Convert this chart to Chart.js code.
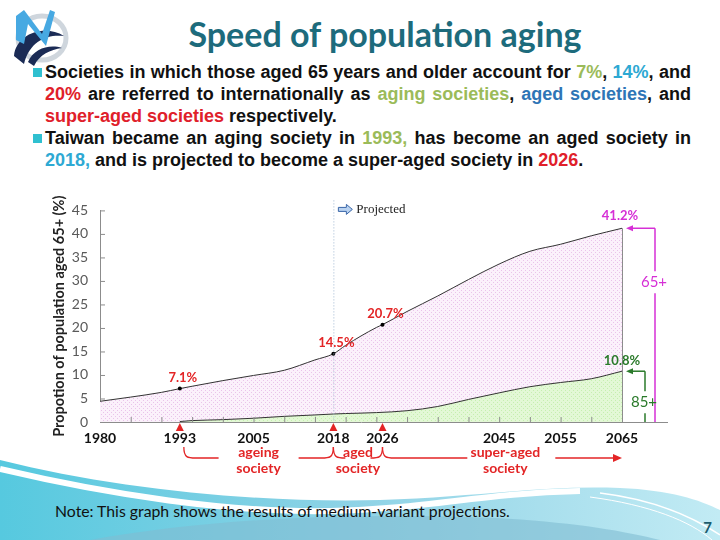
<!DOCTYPE html>
<html>
<head>
<meta charset="utf-8">
<script src="https://cdn.jsdelivr.net/npm/chart.js@4.4.1/dist/chart.umd.min.js"></script>
<style>
  body { margin:0; width:720px; height:540px; position:relative; overflow:hidden; background:#fff; font-family:"Liberation Sans", Arial, sans-serif; }
  #title { position:absolute; left:0; width:770px; top:13px; text-align:center; font-family:Lato, sans-serif; font-weight:bold; font-size:34px; color:#1d6b7c; }
  #bullets { position:absolute; left:30px; top:61px; width:661px; font-weight:bold; font-size:18px; line-height:22px; color:#111; }
  #bullets p { margin:0; padding-left:15px; position:relative; text-align:justify; }
  #bullets p:before { content:""; position:absolute; left:3px; top:7px; width:9px; height:9px; background:#2fc0d0; }
  .olive { color:#9bbb59; } .cyan { color:#2ea9d3; } .blue { color:#2e75b6; } .red { color:#e0202a; }
  #chartBox { position:absolute; left:45px; top:190px; width:650px; height:292px; }
  #note { position:absolute; left:55px; top:501px; font-family:Lato, sans-serif; font-size:15.8px; color:#111; }
  #page { position:absolute; right:8px; top:518px; font-family:Lato, sans-serif; font-weight:bold; font-size:15px; color:#1d5b6c; }
  svg { position:absolute; }
</style>
</head>
<body>
<svg style="left:0;top:455px" width="720" height="85">
  <defs>
    <linearGradient id="wave" x1="0" x2="1" y1="0" y2="0">
      <stop offset="0" stop-color="#56c9df"/>
      <stop offset="0.5" stop-color="#8fd3e6"/>
      <stop offset="1" stop-color="#c2ebf4"/>
    </linearGradient>
  </defs>
  <path d="M0,5 C120,35 260,48 380,45 C480,42 540,30 620,33 C670,35 700,45 720,55 L720,85 L0,85 Z" fill="url(#wave)"/>
  <path d="M90,85 C200,65 330,58 470,62 C560,65 620,75 660,85 Z" fill="#80bcd2" opacity="0.6"/>
  <path d="M0,14 C110,40 230,58 330,56 C430,54 480,38 580,36" stroke="#fff" stroke-width="6" fill="none"/>
  <path d="M600,38 C650,44 690,60 720,80" stroke="#fff" stroke-width="1.5" fill="none"/>
  <path d="M590,42 C650,50 690,66 712,85" stroke="#fff" stroke-width="1" fill="none"/>
</svg>
<svg style="left:4px;top:4px" width="66" height="64">
  <ellipse cx="38" cy="34" rx="24" ry="22" stroke="#cfd6dd" stroke-width="5" fill="none"/>
  <path d="M10,52 C12,30 40,20 60,32 C44,30 26,36 20,60 Z" fill="#1b2b55"/>
  <path d="M24,58 C30,44 46,40 58,44 C46,46 36,50 30,62 Z" fill="#1b2b55"/>
  <path d="M12,12 L20,6 L38,30 L46,6 L51,8 L42,42 L24,20 L20,40 L12,36 Z" fill="#47a9e2"/>
</svg>
<div id="title">Speed of population aging</div>
<div id="bullets">
  <p>Societies in which those aged 65 years and older account for <span class="olive">7%</span>, <span class="cyan">14%</span>, and <span class="red">20%</span> are referred to internationally as <span class="olive">aging societies</span>, <span class="blue">aged societies</span>, and <span class="red">super-aged societies</span> respectively.</p>
  <p>Taiwan became an aging society in <span class="olive">1993,</span> has become an aged society in <span class="cyan">2018,</span> and is projected to become a super-aged society in <span class="red">2026</span>.</p>
</div>
<div id="chartBox"><canvas id="myChart"></canvas></div>
<div id="note">Note: This graph shows the results of medium-variant projections.</div>
<div id="page">7</div>

<script>
// share of population aged 65+ (%)
const years65 = [1980, 1985, 1990, 1993, 1995, 2000, 2005, 2010, 2015, 2018, 2020, 2025, 2026, 2030, 2035, 2040, 2045, 2050, 2055, 2060, 2065];
const share65 = [4.4, 5.3, 6.3, 7.1, 7.6, 8.8, 9.9, 11.0, 13.2, 14.5, 16.3, 20.1, 20.7, 23.5, 26.8, 30.3, 33.6, 36.3, 37.8, 39.6, 41.2];
// share of population aged 85+ (%)
const years85 = [1993, 1995, 2000, 2005, 2010, 2015, 2018, 2020, 2025, 2030, 2035, 2040, 2045, 2050, 2055, 2060, 2065];
const share85 = [0.1, 0.3, 0.5, 0.8, 1.2, 1.5, 1.7, 1.8, 2.0, 2.4, 3.3, 4.8, 6.2, 7.5, 8.4, 9.2, 10.8];

const xTickYears = [1980, 1993, 2005, 2018, 2026, 2045, 2055, 2065];
const milestoneYears = [1993, 2018, 2026];
const milestoneLabels = ['7.1%', '14.5%', '20.7%'];
const stageNames = [['ageing', 'society'], ['aged', 'society'], ['super-aged', 'society']];
const projectedFrom = 2018;

function makePattern(bg, dot) {
  const c = document.createElement('canvas');
  c.width = 4; c.height = 4;
  const g = c.getContext('2d');
  g.fillStyle = bg; g.fillRect(0, 0, 4, 4);
  g.fillStyle = dot; g.fillRect(0, 0, 1, 1); g.fillRect(2, 2, 1, 1);
  return g.createPattern(c, 'repeat');
}

const red = '#e32526', magenta = '#d62fd6', green = '#2a7a2a';

const annot = {
  id: 'annot',
  afterDatasetsDraw(chart) {
    const { ctx, scales: { x, y } } = chart;
    const X = v => x.getPixelForValue(v), Y = v => y.getPixelForValue(v);
    const line = (x1, y1, x2, y2) => { ctx.beginPath(); ctx.moveTo(x1, y1); ctx.lineTo(x2, y2); ctx.stroke(); };
    const y0 = Y(0), xr = X(2065);
    const top65 = share65[share65.length - 1], top85 = share85[share85.length - 1];
    ctx.save();

    // inner tick marks and axis extension
    ctx.strokeStyle = '#8c8c8c'; ctx.lineWidth = 1;
    for (let yr = 1985; yr <= 2065; yr += 5) line(X(yr) + 0.5, y0, X(yr) + 0.5, y0 - 5);
    for (let v = 5; v <= 45; v += 5) line(X(1980), Y(v) + 0.5, X(1980) + 5, Y(v) + 0.5);
    line(xr, y0 + 0.5, xr + 46, y0 + 0.5);
    line(xr + 0.5, Y(top65), xr + 0.5, y0);

    // projected divider
    ctx.strokeStyle = '#9fb8d0'; ctx.setLineDash([1, 2]);
    line(X(projectedFrom) + 0.5, Y(45) - 10, X(projectedFrom) + 0.5, y0);
    ctx.setLineDash([]);
    const ax = X(projectedFrom) + 5, ay = Y(45) - 1;
    ctx.beginPath();
    ctx.moveTo(ax, ay - 2); ctx.lineTo(ax + 8, ay - 2); ctx.lineTo(ax + 8, ay - 5); ctx.lineTo(ax + 14, ay);
    ctx.lineTo(ax + 8, ay + 5); ctx.lineTo(ax + 8, ay + 2); ctx.lineTo(ax, ay + 2); ctx.closePath();
    ctx.fillStyle = '#b9d2f0'; ctx.fill(); ctx.strokeStyle = '#3a66a8'; ctx.stroke();
    ctx.fillStyle = '#222'; ctx.font = '13px "Liberation Serif"'; ctx.textAlign = 'left'; ctx.textBaseline = 'middle';
    ctx.fillText('Projected', ax + 18, ay);

    // milestone labels
    ctx.textAlign = 'center'; ctx.textBaseline = 'alphabetic';
    ctx.font = 'bold 13px Lato'; ctx.fillStyle = red;
    milestoneYears.forEach((yr, i) => {
      const v = share65[years65.indexOf(yr)];
      ctx.fillText(milestoneLabels[i], X(yr) + 3, Y(v) - 7);
    });
    ctx.fillStyle = magenta; ctx.fillText(top65.toFixed(1) + '%', xr - 2, Y(top65) - 8);
    ctx.fillStyle = green; ctx.fillText(top85.toFixed(1) + '%', xr, Y(top85) - 6);

    // brackets on the right
    const bracket = (bx, v, col, label, gapTop) => {
      const by = Y(v);
      ctx.strokeStyle = col; ctx.fillStyle = col; ctx.lineWidth = 1.5;
      line(xr + 8, by, bx, by);
      ctx.beginPath(); ctx.moveTo(xr + 4, by); ctx.lineTo(xr + 11, by - 3); ctx.lineTo(xr + 11, by + 3); ctx.closePath(); ctx.fill();
      line(bx, by, bx, by + gapTop);
      line(bx, by + gapTop + 22, bx, y0);
      ctx.font = '15px Lato'; ctx.textBaseline = 'middle';
      ctx.fillText(label, bx - 1, by + gapTop + 11);
    };
    bracket(xr + 33, top65, magenta, '65+', 43);
    bracket(xr + 23, top85, green, '85+', 20);

    // stage markers under the axis
    ctx.fillStyle = red; ctx.strokeStyle = red; ctx.lineWidth = 1.3;
    milestoneYears.forEach(yr => {
      ctx.beginPath(); ctx.moveTo(X(yr), y0 + 1); ctx.lineTo(X(yr) + 4, y0 + 9); ctx.lineTo(X(yr) - 4, y0 + 9); ctx.closePath(); ctx.fill();
    });
    const ly = y0 + 36, uy = y0 + 25;
    const down = (px, dir) => { ctx.beginPath(); ctx.moveTo(px, uy); ctx.bezierCurveTo(px, ly, px + dir * 4, ly, px + dir * 12, ly); return ctx; };
    const seg = (a, b, half) => {
      const mid = (a + b) / 2;
      down(a, 1); ctx.lineTo(mid - half, ly); ctx.stroke();
      ctx.beginPath(); ctx.moveTo(mid + half, ly); ctx.lineTo(b - 12, ly); ctx.bezierCurveTo(b - 4, ly, b, ly, b, uy); ctx.stroke();
      return mid;
    };
    ctx.font = 'bold 14px Lato'; ctx.textAlign = 'center'; ctx.textBaseline = 'middle';
    const m1 = seg(X(milestoneYears[0]) + 4, X(milestoneYears[1]), 40);
    const m2 = seg(X(milestoneYears[1]), X(milestoneYears[2]), 17);
    const m3 = X(2046);
    down(X(milestoneYears[2]), 1); ctx.lineTo(m3 - 38, ly); ctx.stroke();
    line(m3 + 50, ly, xr - 6, ly);
    ctx.beginPath(); ctx.moveTo(xr, ly); ctx.lineTo(xr - 9, ly - 4); ctx.lineTo(xr - 9, ly + 4); ctx.closePath(); ctx.fill();
    [m1, m2, m3].forEach((m, i) => {
      ctx.fillText(stageNames[i][0], m, y0 + 30);
      ctx.fillText(stageNames[i][1], m, y0 + 46);
    });
    ctx.restore();
  }
};

new Chart(document.getElementById('myChart'), {
  type: 'line',
  data: {
    datasets: [
      {
        label: '85+',
        data: years85.map((yr, i) => ({ x: yr, y: share85[i] })),
        borderColor: '#333', borderWidth: 1,
        backgroundColor: makePattern('#e3f8d6', '#c6eeb0'),
        fill: 'origin', pointRadius: 0, cubicInterpolationMode: 'monotone',
      },
      {
        label: '65+',
        data: years65.map((yr, i) => ({ x: yr, y: share65[i] })),
        borderColor: '#333', borderWidth: 1,
        backgroundColor: makePattern('#fbf1fb', '#e9c4ea'),
        fill: 'origin', cubicInterpolationMode: 'monotone',
        pointRadius: c => milestoneYears.includes(c.raw && c.raw.x) ? 2 : 0,
        pointBackgroundColor: '#000', pointBorderWidth: 0,
      },
    ],
  },
  options: {
    responsive: true, maintainAspectRatio: false, animation: false,
    layout: { padding: { top: 19, right: 73, left: 0, bottom: 0 } },
    plugins: { legend: { display: false }, tooltip: { enabled: false } },
    scales: {
      x: {
        type: 'linear', min: 1980, max: 2065,
        afterBuildTicks: s => { s.ticks = xTickYears.map(v => ({ value: v })); },
        afterFit: s => { s.height = 60; },
        grid: { drawOnChartArea: false, drawTicks: false },
        border: { color: '#8c8c8c' },
        ticks: { padding: 8, color: '#111', font: { family: 'Lato', weight: 'bold', size: 14 }, callback: v => String(v), maxRotation: 0, autoSkip: false },
      },
      y: {
        min: 0, max: 45,
        afterFit: s => { s.width = 55; },
        grid: { drawOnChartArea: false, drawTicks: false },
        border: { color: '#8c8c8c' },
        ticks: { stepSize: 5, padding: 12, color: '#595959', font: { family: 'Lato', size: 14 } },
        title: { display: true, text: 'Propotion of population aged 65+ (%)', color: '#222', padding: { top: 6, bottom: 0 }, font: { family: 'Lato', weight: 'bold', size: 14.5 } },
      },
    },
  },
  plugins: [annot],
});
</script>
</body>
</html>
